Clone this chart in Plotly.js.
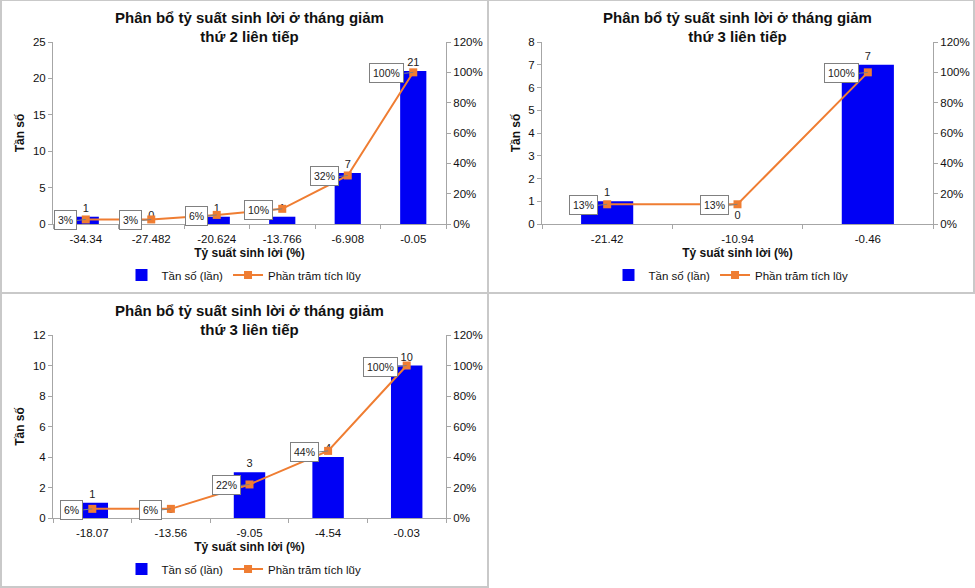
<!DOCTYPE html>
<html>
<head>
<meta charset="utf-8">
<script src="https://cdn.plot.ly/plotly-3.0.1.min.js"></script>
<style>
  html, body { margin: 0; padding: 0; background: #fff; }
  #wrap { position: relative; width: 975px; height: 588px; overflow: hidden; background: #fff; }
  .panel { position: absolute; }
  .ln { position: absolute; background: #c9c9c9; }
</style>
</head>
<body>
<div id="wrap">
  <div id="c1" class="panel" style="left:0px; top:0px; width:488px; height:293px;"></div>
  <div id="c2" class="panel" style="left:488px; top:0px; width:486px; height:293px;"></div>
  <div id="c3" class="panel" style="left:0px; top:293px; width:488px; height:294px;"></div>
  <div class="ln" style="left:0px; top:0px; width:2px; height:588px;"></div>
  <div class="ln" style="left:0px; top:0px; width:975px; height:1px;"></div>
  <div class="ln" style="left:487px; top:0px; width:2px; height:588px;"></div>
  <div class="ln" style="left:0px; top:292px; width:975px; height:2px;"></div>
  <div class="ln" style="left:973px; top:0px; width:2px; height:294px;"></div>
  <div class="ln" style="left:0px; top:586px; width:489px; height:2px;"></div>
</div>
<script>
// ---- Chart 1 data ----
const cats1 = ['-34.34', '-27.482', '-20.624', '-13.766', '-6.908', '-0.05'];
const freq1 = [1, 0, 1, 1, 7, 21];
const cum1  = [0.03, 0.03, 0.06, 0.10, 0.32, 1.00];
const title1 = 'Phân bổ tỷ suất sinh lời ở tháng giảm<br>thứ 2 liên tiếp';

// ---- Chart 2 data ----
const cats2 = ['-21.42', '-10.94', '-0.46'];
const freq2 = [1, 0, 7];
const cum2  = [0.13, 0.13, 1.00];
const title2 = 'Phân bổ tỷ suất sinh lời ở tháng giảm<br>thứ 3 liên tiếp';

// ---- Chart 3 data ----
const cats3 = ['-18.07', '-13.56', '-9.05', '-4.54', '-0.03'];
const freq3 = [1, 0, 3, 4, 10];
const cum3  = [0.06, 0.06, 0.22, 0.44, 1.00];
const title3 = 'Phân bổ tỷ suất sinh lời ở tháng giảm<br>thứ 3 liên tiếp';

const barName = 'Tần số (lần)';
const lineName = 'Phần trăm tích lũy';
const xTitle = 'Tỷ suất sinh lời (%)';
const yTitle = 'Tần số';

const FONT = 'Liberation Sans, Arial, sans-serif';
const BLUE = '#0000f5';
const ORANGE = '#ef7d32';
const AXIS = '#a6a6a6';
const TICK = 11.5;

function makeChart(id, cats, freq, cum, yMax, yDtick, title, w, h, m) {
  const bar = {
    type: 'bar', x: cats, y: freq, name: barName,
    marker: { color: BLUE },
    text: freq.map(String), textposition: 'outside',
    textfont: { family: FONT, size: 11, color: '#222' },
    cliponaxis: false, width: 0.4
  };
  const line = {
    type: 'scatter', mode: 'lines+markers', x: cats, y: cum, yaxis: 'y2', name: lineName,
    line: { color: ORANGE, width: 2 },
    marker: { color: ORANGE, symbol: 'square', size: 8 },
    cliponaxis: false
  };
  const ann = cum.map((v, i) => ({
    x: i, y: v, xref: 'x', yref: 'y2',
    text: Math.round(v * 100) + '%',
    showarrow: true, arrowhead: 0, arrowwidth: 1, arrowcolor: '#808080',
    ax: -9, ay: 1, xanchor: 'right', yanchor: 'middle',
    bgcolor: '#ffffff', bordercolor: '#808080', borderwidth: 1, borderpad: 3,
    font: { family: FONT, size: 10.5, color: '#222' }
  }));
  const layout = {
    width: w, height: h,
    margin: m,
    paper_bgcolor: 'rgba(0,0,0,0)', plot_bgcolor: '#fff',
    font: { family: FONT, size: TICK, color: '#111' },
    showlegend: true,
    title: { text: title, x: 0.5, xref: 'paper', xanchor: 'center', y: 1 - 22.5 / h, yref: 'container', yanchor: 'middle',
             font: { family: FONT, size: 15, color: '#111', weight: 'bold' } },
    bargap: 0.6,
    xaxis: {
      type: 'category', range: [-0.5, cats.length - 0.5], autorange: false,
      showline: true, linecolor: AXIS, linewidth: 1,
      ticks: 'outside', tickson: 'boundaries', ticklen: 4, tickcolor: AXIS, tickangle: 0,
      ticklabelstandoff: 4,
      tickfont: { family: FONT, size: TICK, color: '#111' },
      title: { text: xTitle, font: { family: FONT, size: 12, color: '#111', weight: 'bold' }, standoff: 6 },
      showgrid: false, zeroline: false, fixedrange: true
    },
    yaxis: {
      range: [0, yMax], autorange: false, dtick: yDtick, showline: true, linecolor: AXIS, linewidth: 1,
      ticks: 'outside', ticklen: 4, tickcolor: AXIS, showgrid: false, zeroline: false,
      tickfont: { family: FONT, size: TICK, color: '#111' },
      title: { text: yTitle, font: { family: FONT, size: 12, color: '#111', weight: 'bold' }, standoff: 5 }
    },
    yaxis2: {
      overlaying: 'y', side: 'right', range: [0, 1.2], autorange: false, dtick: 0.2, tickformat: '.0%',
      showline: true, linecolor: AXIS, linewidth: 1, ticks: 'outside', ticklen: 4, tickcolor: AXIS,
      showgrid: false, zeroline: false,
      tickfont: { family: FONT, size: TICK, color: '#111' }
    },
    legend: {
      orientation: 'h', x: 0.5, xanchor: 'center', xref: 'container',
      y: 18 / h, yref: 'container', yanchor: 'middle',
      font: { family: FONT, size: 11.5, color: '#111' },
      itemwidth: 30, tracegroupgap: 0, bgcolor: 'rgba(0,0,0,0)'
    },
    annotations: ann
  };
  Plotly.newPlot(id, [bar, line], layout, { displayModeBar: false, staticPlot: true });
}

makeChart('c1', cats1, freq1, cum1, 25, 5, title1, 488, 293, { l: 53, r: 42, t: 42, b: 69, pad: 0 });
makeChart('c2', cats2, freq2, cum2, 8, 1, title2, 486, 293, { l: 54, r: 41, t: 42, b: 69, pad: 0 });
makeChart('c3', cats3, freq3, cum3, 12, 2, title3, 488, 294, { l: 53, r: 42, t: 42, b: 69, pad: 0 });
</script>
</body>
</html>
